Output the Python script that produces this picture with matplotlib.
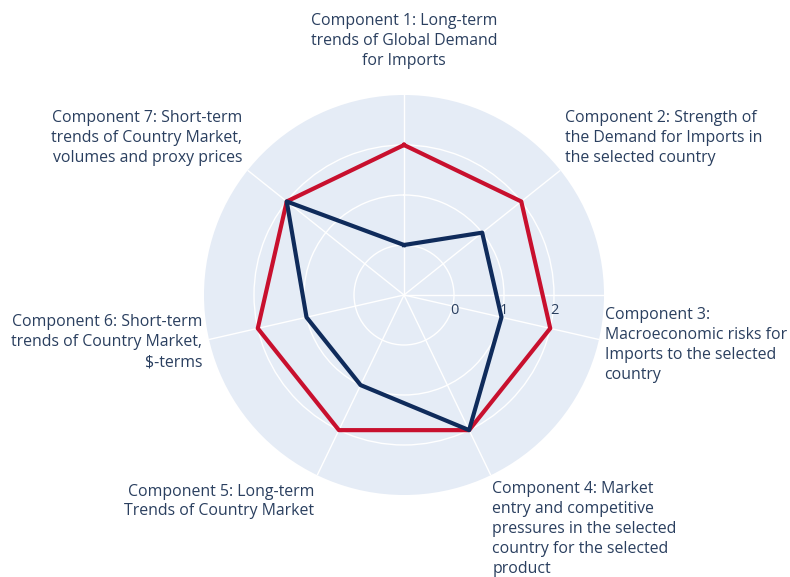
import numpy as np
import matplotlib
matplotlib.use("Agg")
import matplotlib.pyplot as plt

plt.rcParams['font.family'] = ['Open Sans', 'DejaVu Sans']

categories = [
    "Component 1: Long-term\ntrends of Global Demand\nfor Imports",
    "Component 2: Strength of\nthe Demand for Imports in\nthe selected country",
    "Component 3:\nMacroeconomic risks for\nImports to the selected\ncountry",
    "Component 4: Market\nentry and competitive\npressures in the selected\ncountry for the selected\nproduct",
    "Component 5: Long-term\nTrends of Country Market",
    "Component 6: Short-term\ntrends of Country Market,\n$-terms",
    "Component 7: Short-term\ntrends of Country Market,\nvolumes and proxy prices",
]
red_values = [2, 2, 2, 2, 2, 2, 2]
blue_values = [0, 1, 1, 2, 1, 1, 2]
radial_ticks = [0, 1, 2]

RED = "#C8102E"
BLUE = "#0F2B5B"
TXT = "#2a3f5f"
BG = "#E5ECF6"

n = len(categories)
theta = np.arange(n) * 2 * np.pi / n

fig = plt.figure(figsize=(7.9, 5.77), dpi=100)
ax = fig.add_axes([204/790, 82/577, 400/790, 400/577], projection='polar')
ax.set_theta_zero_location('N')
ax.set_theta_direction(-1)
ax.set_facecolor(BG)
ax.spines['polar'].set_visible(False)
ax.set_ylim(-1, 3)

ax.set_xticks(theta)
ax.set_xticklabels([])
ax.set_yticks(radial_ticks)
ax.set_yticklabels([])
ax.grid(True, color='white', linewidth=1.0)
ax.tick_params(length=0)

# radial axis line (plotly default at angle 0 = east)
ax.plot([np.pi/2, np.pi/2], [-1, 3], color='white', linewidth=1.0, zorder=1)

for v in radial_ticks:
    ax.annotate(str(v), xy=(np.pi/2, v), xytext=(0, -5.5), textcoords='offset points',
                ha='center', va='top', fontsize=10.5, color=TXT)

tc = np.append(theta, theta[0])
ax.plot(tc, red_values + red_values[:1], color=RED, linewidth=3.0, zorder=3)
ax.plot(tc, blue_values + blue_values[:1], color=BLUE, linewidth=3.0, zorder=4)

# category labels
align = [
    ('center', 'bottom', 'center', (0, 19)),
    ('left', 'bottom', 'left', (3, 3)),
    ('left', 'center', 'left', (4, -4)),
    ('left', 'top', 'left', (1, -4.5)),
    ('right', 'top', 'right', (-2, -6)),
    ('right', 'center', 'right', (-5, -2)),
    ('right', 'bottom', 'right', (-4, 3)),
]
for t, lab, (ha, va, ma, off) in zip(theta, categories, align):
    ax.annotate(lab, xy=(t, 3), xytext=off, textcoords='offset points',
                ha=ha, va=va, multialignment=ma, fontsize=11.4, color=TXT,
                linespacing=1.32, annotation_clip=False)

fig.savefig("out.png", dpi=100)
